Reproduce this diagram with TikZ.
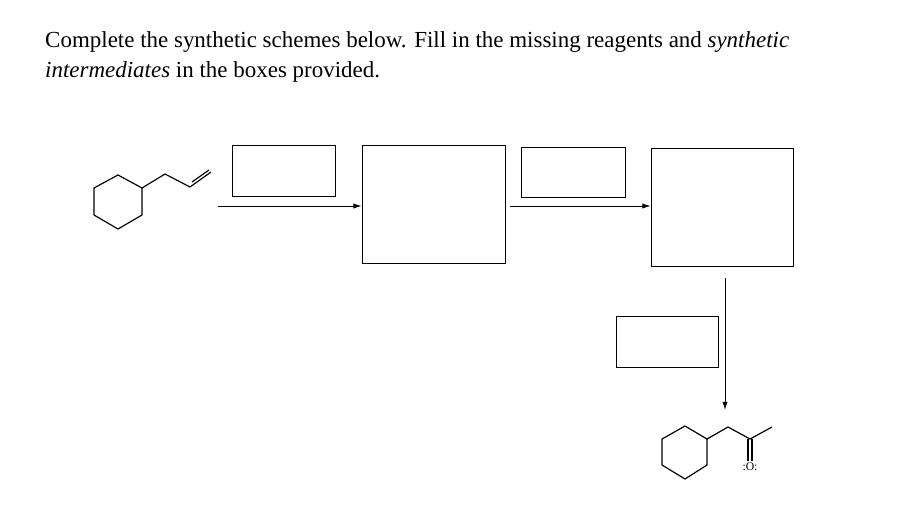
\documentclass[tikz,border=0pt]{standalone}
\usepackage{fontspec}
\setmainfont{Liberation Serif}
\usetikzlibrary{positioning, arrows.meta}
\begin{document}
\begin{tikzpicture}[x=0.3mm, y=-0.3mm,
    answer/.style={rectangle, draw, thick, inner sep=0pt},
    bond/.style={line width=1pt, line join=round},
    rxn/.style={-{Latex[length=7pt, width=4.5pt]}, line width=0.7pt}]

    \useasboundingbox (0,0) rectangle (911,512);

    \node[anchor=north west, align=left, inner sep=0pt,
    font=\fontsize{19.6}{26}\selectfont] (task) at (45,31)
    {Complete the synthetic schemes below. Fill in the missing reagents and \textit{synthetic}\\
    \textit{intermediates} in the boxes provided.};

    % boxes
    \node[answer, minimum width=103*0.3mm, minimum height=51*0.3mm] (r1) at (283.5,170.5) {};
    \node[answer, minimum width=143*0.3mm, minimum height=118*0.3mm] (i1) at (433.5,204) {};
    \node[answer, minimum width=104*0.3mm, minimum height=50*0.3mm] (r2) at (573,172) {};
    \node[answer, minimum width=142*0.3mm, minimum height=118*0.3mm] (i2) at (722,207) {};
    \node[answer, minimum width=102*0.3mm, minimum height=51*0.3mm] (r3) at (667,341.5) {};

    % arrows
    \coordinate (a1) at (218,206);
    \coordinate (a2) at (510,206);
    \coordinate (a3) at (725,278);
    \coordinate (p) at (725,410);
    \draw[rxn] (a1) -- (i1.west |- a1);
    \draw[rxn] (a2) -- (i2.west |- a2);
    \draw[rxn] (a3) -- (p);

    % starting alkene
    \draw[bond] (118,175) -- (142,188) -- (142,215) -- (118,229) -- (94,215) -- (94,188) -- cycle;
    \draw[bond] (142,188) -- (165,174) -- (190,187) -- (211,172);
    \draw[bond] (192,182) -- (209,170);

    % product ketone
    \draw[bond] (685,426) -- (707,439) -- (707,465) -- (685,479) -- (662,465) -- (662,439) -- cycle;
    \draw[bond] (707,439) -- (728,427) -- (750,439) -- (772,427);
    \draw[bond] (748,439) -- (748,461);
    \draw[bond] (752,439) -- (752,461);
    \node[font=\fontsize{10}{10}\selectfont, inner sep=0pt] (oxy) at (750,467) {:O:};
\end{tikzpicture}
\end{document}
